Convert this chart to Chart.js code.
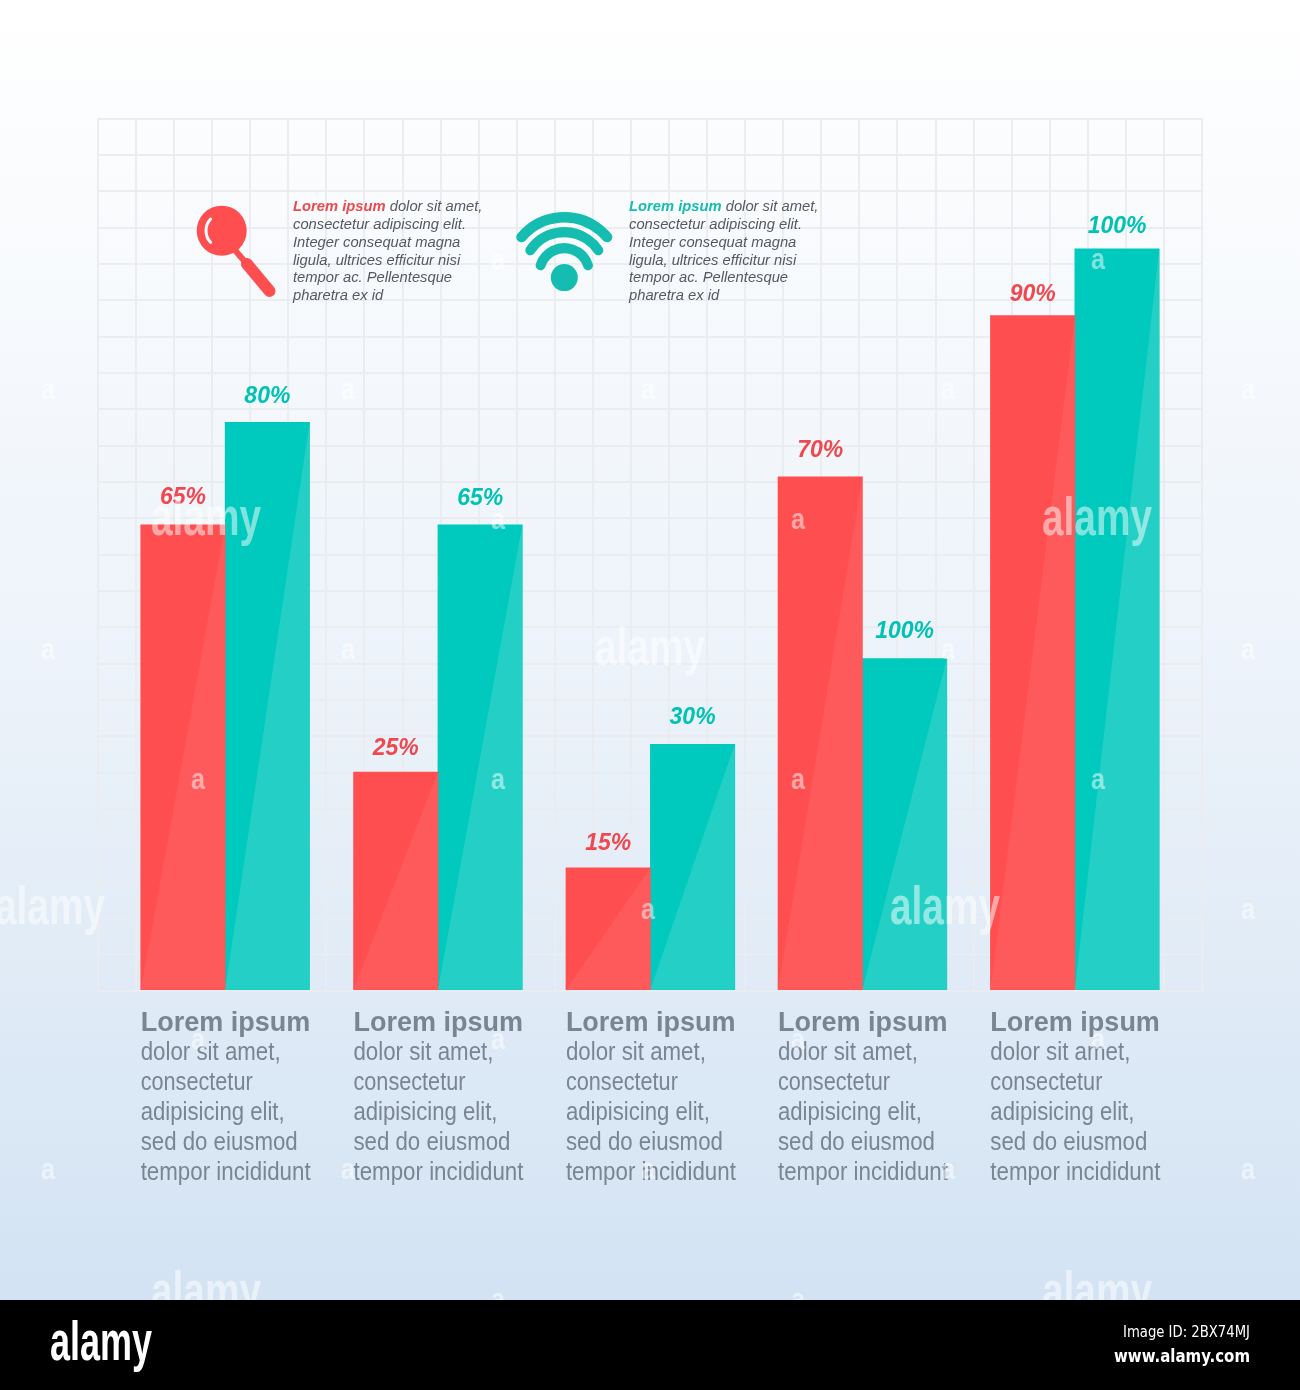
<!DOCTYPE html>
<html><head><meta charset="utf-8">
<style>html,body{margin:0;padding:0;background:#fff}canvas{display:block}</style>
<script src="https://cdn.jsdelivr.net/npm/chart.js@4"></script>
</head><body><canvas id="c" width="1300" height="1390"></canvas>
<script>
const categoryCenters=[3.34,8.93,14.51,20.08,25.66];
const redValues=[64.1,30.1,16.9,70.7,92.9];
const tealValues=[78.2,64.1,33.9,45.7,102.1];
const redLabels=['65%','25%','15%','70%','90%'];
const tealLabels=['80%','65%','30%','100%','100%'];
const redLabelGap=[21,17,18,20,15];
const tealLabelGap=[19,20,20,21,16];
const captionHead='Lorem ipsum';
const captionBody=['dolor sit amet,','consectetur','adipisicing elit,','sed do eiusmod','tempor incididunt'];
const noteHead='Lorem ipsum';
const noteFirst=' dolor sit amet,';
const noteBody=['consectetur adipiscing elit.','Integer consequat magna','ligula, ultrices efficitur nisi','tempor ac. Pellentesque','pharetra ex id'];
const RED='#FF4E4F',TEAL='#00C9BD',FONT='"Liberation Sans",Arial,sans-serif',GRID='rgba(233,235,239,.92)';
const bigMarks=[[206,518],[1097,518],[650,648],[50,907],[945,907],[206,1292],[1097,1292]];
const smallMarks=[[48,388],[348,388],[648,388],[948,388],[1248,388],[498,258],[1098,258],[798,518],[498,518],[48,648],[348,648],[948,648],[1248,648],[198,778],[498,778],[798,778],[1098,778],[648,908],[1248,908],[198,1038],[498,1038],[798,1038],[1098,1038],[48,1168],[348,1168],[648,1168],[948,1168],[1248,1168],[498,1298],[798,1298]];

function txt(ctx,s,x,y,font,color,align,w){ctx.font=font;ctx.fillStyle=color;ctx.textAlign=align||'left';ctx.textBaseline='alphabetic';
  if(w)ctx.fillText(s,x,y,w);else ctx.fillText(s,x,y);}

const backdrop={id:'backdrop',beforeDraw(ch){const c=ch.ctx,g=c.createLinearGradient(0,0,0,1300);
  g.addColorStop(0,'#FFFFFF');g.addColorStop(.5,'#EDF3FA');g.addColorStop(1,'#D3E3F3');
  c.save();c.fillStyle=g;c.fillRect(0,0,1300,1300);c.restore();}};

const barDeco={id:'barDeco',afterDatasetsDraw(ch){const c=ch.ctx;c.save();
  ch.data.datasets.forEach((ds,d)=>{ch.getDatasetMeta(d).data.forEach((b,i)=>{
    const L=b.x-b.width/2,R=b.x+b.width/2;
    c.fillStyle=d===0?'rgba(255,255,255,.07)':'rgba(255,255,255,.14)';
    c.beginPath();c.moveTo(L,b.base);c.lineTo(R,b.y);c.lineTo(R,b.base);c.closePath();c.fill();
    const lab=(d===0?redLabels:tealLabels)[i],gap=(d===0?redLabelGap:tealLabelGap)[i];
    txt(c,lab,b.x,b.y-gap,'italic bold 23px '+FONT,d===0?'#F0484F':'#00C2B5','center');
  });});
  const xs=ch.scales.x;
  categoryCenters.forEach(v=>{const cx=xs.getPixelForValue(v),L=cx-84.5;
    txt(c,captionHead,L,1031,'bold 27px '+FONT,'#7A8592','left',170);
    captionBody.forEach((s,k)=>{const w=[140,112,144,157,170][k];txt(c,s,L,1060+k*30,'25px '+FONT,'#7A8592','left',w);});
  });
  note(c,293,'#F0484F');note(c,629,'#14BDB0');
  magnifier(c);wifi(c);
  c.restore();}};

function note(c,x,col){const f='italic 14.75px '+FONT;
  txt(c,noteHead,x,211,'italic bold 14.75px '+FONT,col);
  const w=c.measureText(noteHead).width;
  txt(c,noteFirst,x+w,211,f,'#555A62');
  noteBody.forEach((s,i)=>txt(c,s,x,229+i*17.8,f,'#555A62'));}

function magnifier(c){c.fillStyle=RED;c.beginPath();c.arc(221.7,230.7,25,0,7);c.fill();
  c.strokeStyle=RED;c.lineCap='butt';c.lineWidth=6;c.beginPath();c.moveTo(234,249);c.lineTo(246,263);c.stroke();
  c.lineCap='round';c.lineWidth=12;c.beginPath();c.moveTo(247,264);c.lineTo(269.5,291);c.stroke();
  c.strokeStyle='#fff';c.lineWidth=3;c.beginPath();c.arc(223,230.7,17,Math.PI*.76,Math.PI*1.24);c.stroke();}

function wifi(c){c.fillStyle='#14BDB0';c.strokeStyle='#14BDB0';c.lineCap='round';
  [[56,42.8],[41,34],[25,23.7]].forEach(([r,h])=>{const a=Math.asin(h/r);c.lineWidth=r>50?10.5:10;
    c.beginPath();c.arc(564.3,273.2,r,-Math.PI/2-a,-Math.PI/2+a);c.stroke();});
  c.beginPath();c.arc(564.3,277.6,13.5,0,7);c.fill();}

const overlay={id:'overlay',afterDraw(ch){const c=ch.ctx;c.save();
  c.globalAlpha=.5;
  bigMarks.forEach(([x,y])=>txt(c,'alamy',x,y+17,'bold 53px '+FONT,'#fff','center',110));
  c.globalAlpha=.5;
  smallMarks.forEach(([x,y])=>txt(c,'a',x,y+11,'bold 30px '+FONT,'#fff','center',14));
  c.globalAlpha=1;
  c.fillStyle='#000';c.fillRect(0,1300,1300,90);
  txt(c,'alamy',50,1360,'bold 56px '+FONT,'#fff','left',102);
  txt(c,'Image ID: 2BX74MJ',1250,1337,'16px "DejaVu Sans",sans-serif','#fff','right',127);
  txt(c,'www.alamy.com',1250,1362,'bold 17px "DejaVu Sans",sans-serif','#fff','right',136);
  c.restore();}};

const toData=a=>a.map((y,i)=>({x:categoryCenters[i],y}));
new Chart(document.getElementById('c'),{type:'bar',
 data:{datasets:[
  {label:'Red',data:toData(redValues),backgroundColor:RED,barThickness:84.4},
  {label:'Teal',data:toData(tealValues),backgroundColor:TEAL,barThickness:84.4}]},
 plugins:[backdrop,barDeco,overlay],
 options:{responsive:false,devicePixelRatio:1,animation:false,
  layout:{padding:{left:98,right:98,top:118.7,bottom:399.3}},
  plugins:{legend:{display:false},tooltip:{enabled:false},title:{display:false}},
  scales:{
   x:{type:'linear',offset:false,min:0,max:29,
      ticks:{display:false,stepSize:1,autoSkip:false},
      grid:{offset:false,color:GRID,lineWidth:2,drawTicks:false},
      border:{display:false}},
   y:{min:0,max:120,
      ticks:{display:false,stepSize:5},
      grid:{color:GRID,lineWidth:2,drawTicks:false},
      border:{display:false}}}}});
</script></body></html>
